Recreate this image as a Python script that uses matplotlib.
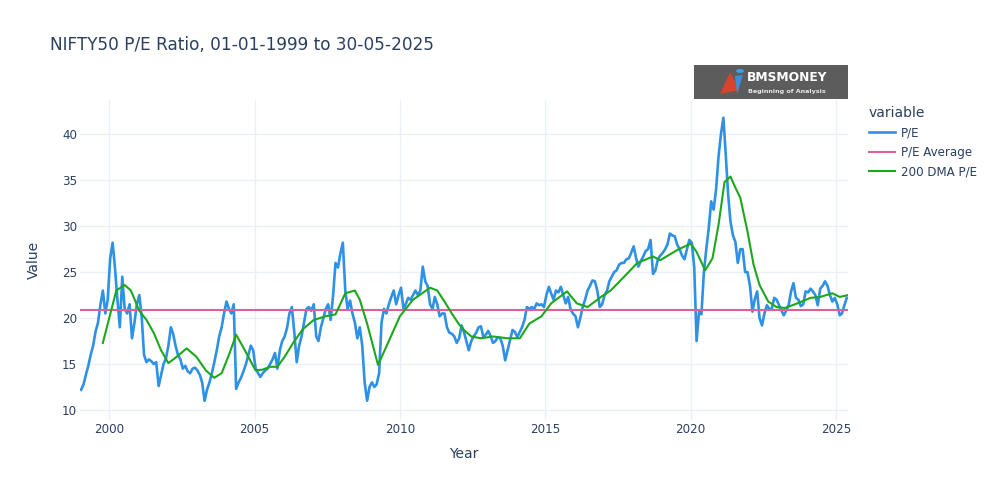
import numpy as np
import pandas as pd
import matplotlib
matplotlib.use("Agg")
import matplotlib.pyplot as plt
import matplotlib.dates as mdates
from matplotlib.patches import Rectangle, Circle, Polygon

# monthly P/E readings (mid-month)
pe_1999 = [12.2, 12.8, 13.8, 14.8, 16.0, 17.0, 18.5, 19.5, 21.5, 23.0, 20.5, 22.0]
pe_2000 = [26.5, 28.2, 25.5, 22.0, 19.0, 24.5, 21.0, 20.5, 21.5, 17.8, 19.5, 21.5]
pe_2001 = [22.5, 20.0, 16.0, 15.2, 15.5, 15.3, 15.0, 15.2, 12.6, 13.8, 15.0, 15.6]
pe_2002 = [17.0, 19.0, 18.3, 17.0, 16.0, 15.5, 14.5, 14.8, 14.2, 14.0, 14.5, 14.6]
pe_2003 = [14.3, 13.8, 13.0, 11.0, 12.2, 13.0, 14.0, 15.2, 16.5, 18.0, 19.0, 20.5]
pe_2004 = [21.8, 21.0, 20.5, 21.5, 12.3, 13.0, 13.5, 14.2, 15.0, 16.0, 17.0, 16.5]
pe_2005 = [14.5, 14.0, 13.6, 14.0, 14.3, 14.5, 15.0, 15.5, 16.2, 14.5, 16.5, 17.5]
pe_2006 = [18.0, 19.0, 20.5, 21.2, 18.5, 15.2, 17.0, 18.0, 19.5, 21.0, 21.2, 20.8]
pe_2007 = [21.5, 18.0, 17.5, 19.0, 20.0, 21.0, 21.5, 19.8, 22.5, 26.0, 25.5, 27.0]
pe_2008 = [28.2, 23.0, 21.0, 21.9, 20.5, 19.5, 17.8, 19.0, 17.0, 13.0, 11.0, 12.5]
pe_2009 = [13.0, 12.5, 12.8, 14.0, 19.5, 21.0, 20.5, 21.5, 22.3, 23.0, 21.5, 22.5]
pe_2010 = [23.3, 21.0, 21.5, 22.2, 22.0, 22.5, 23.0, 22.5, 23.0, 25.6, 24.0, 23.5]
pe_2011 = [21.5, 21.0, 22.3, 21.5, 20.2, 20.5, 20.5, 19.0, 18.4, 18.3, 18.0, 17.3]
pe_2012 = [17.8, 19.2, 18.5, 17.5, 16.5, 17.5, 18.0, 18.4, 19.0, 19.1, 17.9, 18.2]
pe_2013 = [18.6, 18.0, 17.3, 17.5, 17.9, 17.8, 17.0, 15.4, 16.5, 17.6, 18.7, 18.5]
pe_2014 = [17.9, 18.5, 19.0, 19.8, 21.2, 21.0, 21.2, 21.0, 21.6, 21.4, 21.5, 21.2]
pe_2015 = [22.5, 23.4, 22.7, 22.0, 23.0, 22.8, 23.4, 22.5, 21.6, 22.3, 20.9, 20.5]
pe_2016 = [20.2, 19.0, 20.0, 21.2, 22.0, 23.0, 23.5, 24.1, 24.0, 23.0, 21.2, 21.5]
pe_2017 = [22.5, 23.0, 24.0, 24.5, 25.0, 25.2, 25.8, 26.0, 26.0, 26.4, 26.5, 27.1]
pe_2018 = [27.8, 26.5, 25.6, 26.2, 26.7, 27.3, 27.5, 28.5, 24.8, 25.2, 26.4, 26.8]
pe_2019 = [27.1, 27.5, 28.0, 29.2, 29.0, 28.9, 28.0, 27.5, 26.8, 26.4, 27.5, 28.5]
pe_2020 = [28.2, 25.5, 17.5, 20.7, 20.4, 25.0, 27.5, 29.8, 32.7, 31.8, 34.0, 37.5]
pe_2021 = [40.0, 41.8, 38.0, 33.5, 30.5, 29.0, 28.3, 26.0, 27.5, 27.5, 25.0, 25.0]
pe_2022 = [23.5, 20.7, 22.0, 22.9, 20.0, 19.2, 20.5, 21.4, 21.0, 21.0, 22.2, 22.0]
pe_2023 = [21.4, 20.8, 20.3, 20.8, 21.4, 22.9, 23.8, 22.2, 22.0, 21.3, 21.5, 22.9]
pe_2024 = [22.8, 23.2, 22.9, 22.5, 21.4, 23.2, 23.5, 24.0, 23.5, 22.5, 21.8, 22.2]
pe_2025 = [21.5, 20.3, 20.5, 21.4, 22.2]

pe_values = (pe_1999 + pe_2000 + pe_2001 + pe_2002 + pe_2003 + pe_2004 + pe_2005
             + pe_2006 + pe_2007 + pe_2008 + pe_2009 + pe_2010 + pe_2011 + pe_2012
             + pe_2013 + pe_2014 + pe_2015 + pe_2016 + pe_2017 + pe_2018 + pe_2019
             + pe_2020 + pe_2021 + pe_2022 + pe_2023 + pe_2024 + pe_2025)
pe_dates = pd.date_range("1999-01-01", periods=len(pe_values), freq="MS") + pd.Timedelta(days=14)

pe_average = 20.9

# 200 DMA, read at a coarser spacing
dma_dates = ["1999-10-15", "2000-04-01", "2000-07-15", "2000-10-01", "2001-01-15", "2001-04-15",
             "2001-07-15", "2001-10-15", "2002-01-15", "2002-05-01", "2002-09-01", "2003-01-01",
             "2003-05-01", "2003-08-15", "2003-11-15", "2004-02-15", "2004-05-15", "2004-09-01",
             "2005-01-15", "2005-04-15", "2005-07-15", "2005-10-15", "2006-01-15", "2006-05-01",
             "2006-09-01", "2007-01-15", "2007-06-15", "2007-10-15", "2008-02-15", "2008-06-15",
             "2008-08-15", "2008-11-15", "2009-04-01", "2009-07-15", "2010-01-01", "2010-06-15",
             "2011-01-15", "2011-04-15", "2011-07-15", "2011-10-15", "2012-01-15", "2012-03-15",
             "2012-06-15", "2012-10-15", "2013-03-15", "2013-09-15", "2014-02-15", "2014-06-15",
             "2014-11-15", "2015-03-15", "2015-10-01", "2016-02-01", "2016-06-15", "2016-12-01",
             "2017-04-01", "2017-11-01", "2018-03-01", "2018-09-15", "2018-12-15", "2019-07-15",
             "2020-01-01", "2020-03-15", "2020-07-01", "2020-10-01", "2020-12-15", "2021-03-01",
             "2021-05-15", "2021-07-15", "2021-09-15", "2021-12-15", "2022-03-01", "2022-05-15",
             "2022-09-01", "2022-12-15", "2023-04-01", "2023-09-01", "2024-02-15", "2024-06-15",
             "2024-11-15", "2025-02-15", "2025-05-30"]
dma_values = [17.3, 23.0, 23.6, 23.0, 20.8, 19.8,
              18.4, 16.5, 15.1, 15.8, 16.7, 15.8,
              14.3, 13.5, 14.0, 16.0, 18.2, 16.5,
              14.3, 14.4, 14.7, 14.7, 15.8, 17.3,
              18.8, 19.8, 20.2, 20.4, 22.7, 23.0,
              22.0, 19.4, 14.9, 16.9, 20.2, 22.0,
              23.3, 23.0, 21.8, 20.5, 19.3, 18.7,
              18.0, 17.8, 18.0, 17.8, 17.8, 19.4,
              20.2, 21.6, 22.9, 21.6, 21.2, 22.3,
              23.0, 24.9, 26.0, 26.7, 26.3, 27.4,
              28.1, 27.2, 25.2, 26.5, 30.1, 34.8,
              35.4, 34.2, 33.1, 29.4, 25.8, 23.6,
              21.8, 21.2, 21.1, 21.6, 22.2, 22.3,
              22.7, 22.3, 22.5]

text_col = "#2a3f5f"
grid_col = "#ebf0f8"

fig = plt.figure(figsize=(10, 5), dpi=100)
ax = fig.add_axes([0.08, 0.16, 0.768, 0.64])

ax.plot(pe_dates, pe_values, color="#2E91E5", linewidth=1.9, label="P/E")
ax.plot([pd.Timestamp("1999-01-01"), pd.Timestamp("2025-05-30")], [pe_average, pe_average],
        color="#E15F99", linewidth=1.5, label="P/E Average")
ax.plot(pd.to_datetime(dma_dates), dma_values, color="#1CA71C", linewidth=1.5, label="200 DMA P/E")

ax.set_xlim(pd.Timestamp("1999-01-01"), pd.Timestamp("2025-05-30"))
ax.set_ylim(8.91, 43.73)
ax.set_yticks([10, 15, 20, 25, 30, 35, 40])
ax.xaxis.set_major_locator(mdates.YearLocator(5))
ax.xaxis.set_major_formatter(mdates.DateFormatter("%Y"))

ax.grid(True, color=grid_col, linewidth=1)
ax.set_axisbelow(True)
for s in ax.spines.values():
    s.set_visible(False)
ax.tick_params(axis="y", length=0, labelsize=8.6, colors=text_col, pad=2)
ax.tick_params(axis="x", length=0, labelsize=8.6, colors=text_col, pad=2)

ax.set_xlabel("Year", fontsize=10, color=text_col, labelpad=8)
ax.set_ylabel("Value", fontsize=10, color=text_col, labelpad=15)

fig.text(0.05, 0.91, "NIFTY50 P/E Ratio, 01-01-1999 to 30-05-2025",
         fontsize=12.2, color=text_col, va="center")

leg = fig.legend(loc="upper left", bbox_to_anchor=(0.858, 0.81), frameon=False,
                 title="variable", fontsize=8.6, title_fontsize=10,
                 handlelength=2.2, handletextpad=0.5, labelspacing=0.55)
leg._legend_box.align = "left"
for t in leg.get_texts():
    t.set_color(text_col)
leg.get_title().set_color(text_col)

# logo box
fig.patches.append(Rectangle((0.694, 0.802), 0.154, 0.068, transform=fig.transFigure,
                             facecolor="#5c5c5c", edgecolor="none"))
fig.patches.append(Polygon([(0.720, 0.812), (0.730, 0.855), (0.740, 0.82)], closed=True,
                           transform=fig.transFigure, facecolor="#d9432b", edgecolor="none"))
fig.patches.append(Circle((0.740, 0.858), 0.004, transform=fig.transFigure,
                          facecolor="#3aa0e0", edgecolor="none"))
fig.patches.append(Polygon([(0.735, 0.848), (0.743, 0.85), (0.737, 0.812)], closed=True,
                           transform=fig.transFigure, facecolor="#3a8fd8", edgecolor="none"))
fig.text(0.747, 0.845, "BMSMONEY", fontsize=8.8, fontweight="bold", color="white", va="center")
fig.text(0.748, 0.816, "Beginning of Analysis", fontsize=4.6, fontweight="bold", color="#e8e8e8",
         va="center")

fig.savefig("out.png", dpi=100, facecolor="white")
